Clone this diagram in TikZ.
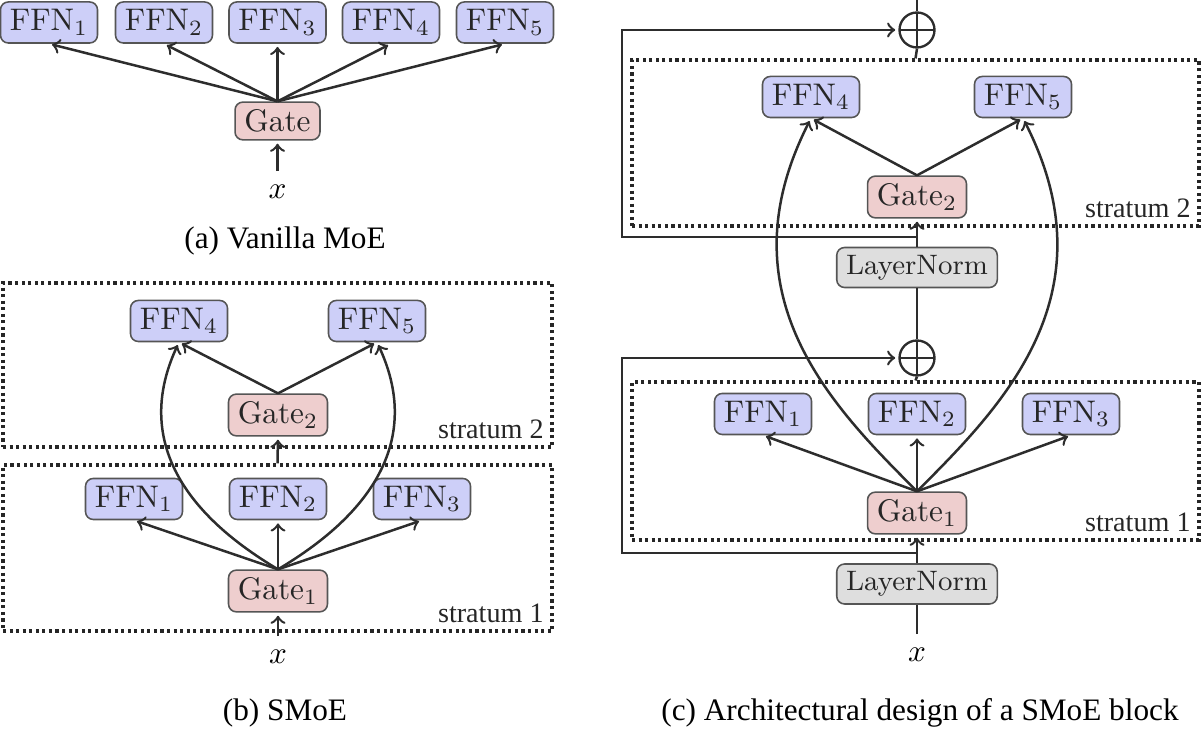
\documentclass[tikz,border=0pt]{standalone}
\usepackage{amsmath}
\usepackage{fontspec}
\newfontfamily\capfont{Liberation Serif}
\usetikzlibrary{positioning,fit}

\definecolor{ffnfill}{RGB}{205,207,248}
\definecolor{gatefill}{RGB}{238,206,206}
\definecolor{normfill}{RGB}{222,222,222}
\definecolor{boxline}{RGB}{85,85,85}
\definecolor{wire}{RGB}{45,45,45}

\begin{document}
\begin{tikzpicture}[x=0.32pt,y=0.32pt,>=to,
  ffn/.style={draw=boxline,fill=ffnfill,rounded corners=2.5pt,line width=0.5pt,inner xsep=3pt,inner ysep=2.4pt,text=black!85},
  gate/.style={ffn,fill=gatefill},
  norm/.style={ffn,fill=normfill,font=\small},
  inp/.style={inner ysep=4.3pt},
  stratum/.style={draw=black!85,dash pattern=on 1pt off 1.1pt,line width=1pt,inner sep=0pt},
  stratlab/.style={anchor=south east,inner sep=3pt,font=\capfont\small,text=black!85},
  adder/.style={draw=wire,circle,line width=0.75pt,minimum size=11.2pt,inner sep=0pt,
    path picture={\draw[wire,line width=0.75pt] (path picture bounding box.north) -- (path picture bounding box.south)
      (path picture bounding box.west) -- (path picture bounding box.east);}},
  flow/.style={->,color=wire,line width=0.8pt,shorten >=1pt},
  wireline/.style={color=wire,line width=0.8pt}]

  \useasboundingbox (0,0) rectangle (1203,729);

  % (a) vanilla MoE
  \node[gate]  (ga)  at (277.5,608)   {Gate};
  \node[ffn]   (fa1) at (49,706.5)    {FFN$_1$};
  \node[ffn]   (fa2) at (164,706.5)   {FFN$_2$};
  \node[ffn]   (fa3) at (277.5,706.5) {FFN$_3$};
  \node[ffn]   (fa4) at (391,706.5)   {FFN$_4$};
  \node[ffn]   (fa5) at (505,706.5)   {FFN$_5$};
  \node[inp]   (xa)  at (277.5,537)   {$x$};
  \node[font=\capfont] (capa) at (285,488) {(a) Vanilla MoE};

  \path[flow] (xa) edge (ga)
    (ga.north) edge (fa1.south)
               edge (fa2.south)
               edge (fa3.south)
               edge (fa4.south)
               edge (fa5.south);

  % (b) SMoE
  \node[stratum,fit={(3,282) (552,446)}] (sb2) {};
  \node[stratum,fit={(3,98) (552,264)}]  (sb1) {};
  \node[stratlab] at (sb2.south east) {stratum 2};
  \node[stratlab] at (sb1.south east) {stratum 1};

  \node[ffn]   (fb4) at (179,408) {FFN$_4$};
  \node[ffn]   (fb5) at (377,408) {FFN$_5$};
  \node[gate]  (gb2) at (278,314) {Gate$_2$};
  \node[ffn]   (fb1) at (134,230) {FFN$_1$};
  \node[ffn]   (fb2) at (278,230) {FFN$_2$};
  \node[ffn]   (fb3) at (422,230) {FFN$_3$};
  \node[gate]  (gb1) at (278,138) {Gate$_1$};
  \node[inp]   (xb)  at (278,72)  {$x$};
  \node[font=\capfont] (capb) at (285,16) {(b) SMoE};

  \path[flow] (xb) edge (gb1)
    (gb1.north) edge (fb1.south)
                edge (fb2.south)
                edge (fb3.south)
                edge [out=149,in=245,out looseness=0.6,in looseness=1.41] (fb4.south)
                edge [out=31,in=295,out looseness=0.6,in looseness=1.41] (fb5.south)
    (sb1.north) edge (gb2.south)
    (gb2.north) edge (fb4.south)
                edge (fb5.south);

  % (c) SMoE block
  \node[stratum,fit={(632,503) (1199,669)}] (sc2) {};
  \node[stratum,fit={(632,189) (1199,347)}] (sc1) {};
  \node[stratlab] at (sc2.south east) {stratum 2};
  \node[stratlab] at (sc1.south east) {stratum 1};

  \node[adder] (ad1) at (917,699) {};
  \node[adder] (ad2) at (917,371) {};
  \coordinate (out) at (917,729);

  \node[ffn]   (fc4) at (811,632)   {FFN$_4$};
  \node[ffn]   (fc5) at (1023,632)  {FFN$_5$};
  \node[gate]  (gc2) at (917,532)   {Gate$_2$};
  \node[norm]  (nc2) at (917,461.5) {LayerNorm};
  \node[ffn]   (fc1) at (763,315)   {FFN$_1$};
  \node[ffn]   (fc2) at (917,315)   {FFN$_2$};
  \node[ffn]   (fc3) at (1071,315)  {FFN$_3$};
  \node[gate]  (gc1) at (917,216)   {Gate$_1$};
  \node[norm]  (nc1) at (917,145)   {LayerNorm};
  \node[inp]   (xc)  at (917,74)    {$x$};
  \node[font=\capfont] (capc) at (920,16) {(c) Architectural design of a SMoE block};

  \coordinate (br1) at (917,176);
  \coordinate (lf1) at (622,176);
  \coordinate (br2) at (917,492);
  \coordinate (lf2) at (622,492);

  \draw[wireline] (xc) -- (nc1);
  \draw[wireline] (sc1.north) -- (ad2.south);
  \draw[wireline] (ad2.north) -- (nc2.south);
  \draw[wireline] (sc2.north) -- (ad1.south);
  \draw[wireline] (ad1.north) -- (out);
  \draw[flow] (br1) -- (lf1) |- (ad2.west);
  \draw[flow] (br2) -- (lf2) |- (ad1.west);

  \path[flow] (nc1) edge (gc1)
    (gc1.north) edge (fc1.south)
                edge (fc2.south)
                edge (fc3.south)
                edge [out=135,in=243,out looseness=0.79,in looseness=1.31] (fc4.south)
                edge [out=45,in=297,out looseness=0.79,in looseness=1.31] (fc5.south)
    (nc2) edge (gc2)
    (gc2.north) edge (fc4.south)
                edge (fc5.south);
\end{tikzpicture}
\end{document}
